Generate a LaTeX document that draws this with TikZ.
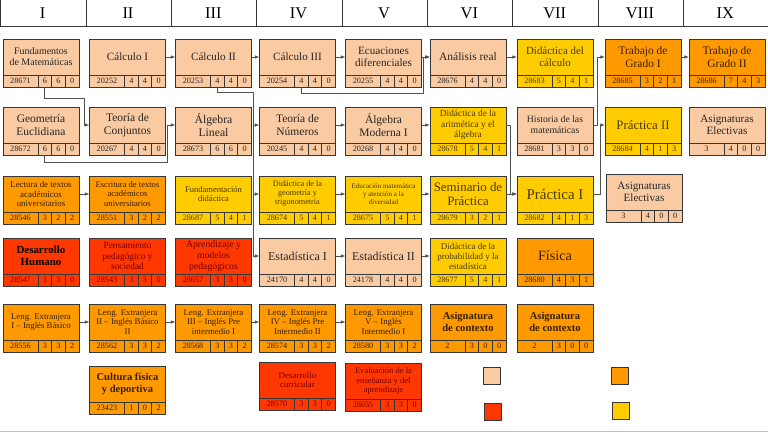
\documentclass[tikz,border=0pt]{standalone}
\usepackage{fontspec}
\setmainfont{Liberation Serif}
\usepackage{tikz}
\usetikzlibrary{arrows.meta}

\definecolor{durazno}{RGB}{250,202,162}
\definecolor{naranja}{RGB}{255,153,0}
\definecolor{amarillo}{RGB}{255,204,0}
\definecolor{rojo}{RGB}{255,55,0}
\definecolor{borde}{RGB}{55,55,55}
\definecolor{conector}{RGB}{80,80,80}

\tikzset{tam/.style={font=\linespread{1.1}\fontsize{#1}{#1}\selectfont}}
\tikzstyle{caja}=[draw=borde, line width=0.8pt, inner sep=0pt, outer sep=0pt, align=center, minimum width=22.8mm, minimum height=10.8mm]
\tikzstyle{celda}=[draw=borde, line width=0.8pt, inner sep=0pt, outer sep=0pt, minimum height=3.6mm, font=\fontsize{7}{7}\selectfont]
\tikzstyle{claro}=[fill=durazno, text=black!85]
\tikzstyle{nar}=[fill=naranja, text={rgb,255:red,55;green,32;blue,0}]
\tikzstyle{amar}=[fill=amarillo, text={rgb,255:red,75;green,58;blue,0}]
\tikzstyle{rojo}=[fill=rojo, text={rgb,255:red,120;green,0;blue,0}]
\tikzstyle{flecha}=[draw=conector, line width=0.6pt, -{Latex[length=4pt,width=3pt]}]
\tikzstyle{rejilla}=[draw=borde, line width=0.7pt]
\tikzstyle{muestra}=[draw=borde, line width=0.8pt, minimum size=5.1mm, inner sep=0pt]
\tikzstyle{cabecera}=[font=\fontsize{14}{14}\selectfont]

\newcommand{\materia}[9]{%
  \node[caja, #3, tam=#4] (#1) at #2 {#5};
  \node[celda, #3, minimum width=10.5mm, anchor=north west] (#1-cod) at (#1.south west) {#6};
  \node[celda, #3, minimum width=4.1mm, anchor=west] (#1-a) at (#1-cod.east) {#7};
  \node[celda, #3, minimum width=4.1mm, anchor=west] (#1-b) at (#1-a.east) {#8};
  \node[celda, #3, minimum width=4.1mm, anchor=west] (#1-c) at (#1-b.east) {#9};
}

\begin{document}
\begin{tikzpicture}[x=0.3mm, y=-0.3mm]
  \useasboundingbox (0,0) rectangle (768,433);

  \draw[rejilla] (0.5,0) -- (0.5,26) -- (768,26);
  \foreach \x in {86,171,256,342,427,512,598,683}
    \draw[rejilla] (\x,0) -- (\x,26);
  \foreach \n [count=\i] in {I,II,III,IV,V,VI,VII,VIII,IX}
    \node[cabecera] (h\i) at ({85.33*\i-42.67},13) {\n};
  \draw[gray!50, line width=0.8pt] (0,431) -- (768,431);

  \materia{fund}{(41,57)}{claro}{8.5}{Fundamentos\\de Matemáticas}{28671}{6}{6}{0}
  \materia{geo}{(41,125)}{claro}{9.8}{Geometría\\Euclidiana}{28672}{6}{6}{0}
  \materia{lect}{(41,194)}{nar}{7.6}{Lectura de textos\\académicos\\universitarios}{28546}{3}{2}{2}
  \materia{desh}{(41,256)}{rojo}{9.3}{\textcolor{black}{\textbf{Desarrollo}}\\\textcolor{black}{\textbf{Humano}}}{28547}{3}{3}{0}
  \materia{leng1}{(41,322)}{nar}{7.5}{Leng. Extranjera\\I – Inglés Básico}{28556}{3}{3}{2}

  \materia{calcI}{(127.5,57)}{claro}{9.5}{Cálculo I}{20252}{4}{4}{0}
  \materia{conj}{(127.5,125)}{claro}{9.8}{Teoría de\\Conjuntos}{20267}{4}{4}{0}
  \materia{escr}{(127.5,194)}{nar}{7.3}{Escritura de textos\\académicos\\universitarios}{28551}{3}{2}{2}
  \materia{pens}{(127.5,256)}{rojo}{8}{Pensamiento\\pedagógico y\\sociedad}{28543}{3}{3}{0}
  \materia{leng2}{(127.5,322)}{nar}{7.5}{Leng. Extranjera\\II – Inglés Básico\\II}{28562}{3}{3}{2}
  \materia{cult}{(127.5,384)}{nar}{9}{\textbf{Cultura física}\\\textbf{y deportiva}}{23423}{1}{0}{2}

  \materia{calcII}{(213.5,57)}{claro}{9.5}{Cálculo II}{20253}{4}{4}{0}
  \materia{alglin}{(213.5,125)}{claro}{10}{Álgebra\\Lineal}{28673}{6}{6}{0}
  \materia{fundid}{(213.5,194)}{amar}{7.3}{Fundamentación\\didáctica}{28687}{5}{4}{1}
  \materia{apren}{(213.5,256)}{rojo}{8.3}{Aprendizaje y\\modelos\\pedagógicos}{28657}{3}{3}{0}
  \materia{leng3}{(213.5,322)}{nar}{7.5}{Leng. Extranjera\\III – Inglés Pre\\intermedio I}{28568}{3}{3}{2}

  \materia{calcIII}{(297.5,57)}{claro}{9.5}{Cálculo III}{20254}{4}{4}{0}
  \materia{teonum}{(297.5,125)}{claro}{9.8}{Teoría de\\Números}{20245}{4}{4}{0}
  \materia{didgeo}{(297.5,194)}{amar}{7}{Didáctica de la\\geometría y\\trigonometría}{28674}{5}{4}{1}
  \materia{est1}{(297.5,256)}{claro}{10.2}{Estadística I}{24170}{4}{4}{0}
  \materia{leng4}{(297.5,322)}{nar}{7.5}{Leng. Extranjera\\IV – Inglés Pre\\Intermedio II}{28574}{3}{3}{2}
  \materia{descur}{(297.5,380)}{rojo}{7.6}{Desarrollo\\curricular}{28570}{3}{3}{0}

  \materia{ecua}{(383.5,57)}{claro}{9.5}{Ecuaciones\\diferenciales}{20255}{4}{4}{0}
  \materia{algmod}{(383.5,125)}{claro}{9.8}{Álgebra\\Moderna I}{20268}{4}{4}{0}
  \materia{edumat}{(383.5,194)}{amar}{6}{Educación matemática\\y atención a la\\diversidad}{28675}{5}{4}{1}
  \materia{est2}{(383.5,256)}{claro}{10.2}{Estadística II}{24178}{4}{4}{0}
  \materia{leng5}{(383.5,322)}{nar}{7.5}{Leng. Extranjera\\V – Inglés\\Intermedio I}{28580}{3}{3}{2}
  \materia{eval}{(383.5,381)}{rojo}{7.3}{Evaluación de la\\enseñanza y del\\aprendizaje}{28655}{3}{3}{0}

  \materia{anal}{(468,57)}{claro}{9.8}{Análisis real}{28676}{4}{4}{0}
  \materia{didarit}{(468,125)}{amar}{8}{Didáctica de la\\aritmética y el\\álgebra}{28678}{5}{4}{1}
  \materia{sem}{(468,194)}{amar}{11}{Seminario de\\Práctica}{28679}{3}{2}{1}
  \materia{didprob}{(468,256)}{amar}{7.7}{Didáctica de la\\probabilidad y la\\estadística}{28677}{5}{4}{1}
  \materia{ctxA}{(468,322)}{nar}{9}{\textbf{Asignatura}\\\textbf{de contexto}}{2}{3}{0}{0}

  \materia{didcalc}{(555,57)}{amar}{9.3}{Didáctica del\\cálculo}{28683}{5}{4}{1}
  \materia{hist}{(555,125)}{claro}{8.3}{Historia de las\\matemáticas}{28681}{3}{3}{0}
  \materia{pracI}{(555,194)}{amar}{12.7}{Práctica I}{28682}{4}{1}{3}
  \materia{fis}{(555,256)}{nar}{12.1}{Física}{28680}{4}{3}{1}
  \materia{ctxB}{(555,322)}{nar}{9}{\textbf{Asignatura}\\\textbf{de contexto}}{2}{3}{0}{0}

  \materia{tgI}{(643,57)}{nar}{9.8}{Trabajo de\\Grado I}{28685}{3}{2}{1}
  \materia{pracII}{(643,125)}{amar}{11}{Práctica II}{28684}{4}{1}{3}
  \materia{elecA}{(644,192)}{claro}{9.5}{Asignaturas\\Electivas}{3}{4}{0}{0}

  \materia{tgII}{(727,57)}{nar}{9.8}{Trabajo de\\Grado II}{28686}{7}{4}{3}
  \materia{elecB}{(727,125)}{claro}{9.5}{Asignaturas\\Electivas}{3}{4}{0}{0}

  \node[muestra, fill=durazno] (legA) at (491.5,375.5) {};
  \node[muestra, fill=rojo] (legB) at (492.5,411.5) {};
  \node[muestra, fill=naranja] (legC) at (620,375.5) {};
  \node[muestra, fill=amarillo] (legD) at (620.5,411) {};

  \draw[flecha] (calcI) -- (calcII);
  \draw[flecha] (calcII) -- (calcIII);
  \draw[flecha] (calcIII) -- (ecua);
  \draw[flecha] (ecua) -- (anal);
  \draw[flecha] (anal) -- (didcalc);
  \draw[flecha] (tgI) -- (tgII);
  \draw[flecha] (teonum) -- (algmod);
  \draw[flecha] (algmod) -- (didarit);
  \draw[flecha] (lect) -- (escr);
  \draw[flecha] (didgeo) -- (edumat);
  \draw[flecha] (edumat) -- (sem);
  \draw[flecha] (sem) -- (pracI);
  \draw[flecha] (est1) -- (est2);
  \draw[flecha] (est2) -- (didprob);
  \draw[flecha] (leng1) -- (leng2);
  \draw[flecha] (leng2) -- (leng3);
  \draw[flecha] (leng3) -- (leng4);
  \draw[flecha] (leng4) -- (leng5);

  \coordinate (r1) at (84,98);
  \coordinate (r2) at (167,162);
  \coordinate (r3) at (253,92);
  \coordinate (r4) at (423,93);
  \draw[flecha] (fund-a.south) |- (r1) |- (conj.west);
  \draw[flecha] (geo-a.south) |- (r2) |- (alglin.west);
  \draw[flecha] (calcII-a.south) |- (r3) |- (est1.west);
  \draw[flecha] (r3) |- (teonum.west);
  \draw[flecha] (r3) |- (didgeo.west);
  \draw[flecha] (calcIII-a.south) |- (r4) |- (anal.west);
  \draw[flecha] (didarit.east) -- ++(4,0) |- (pracI.west);
  \draw[flecha] (hist.east) -- ++(4,0) |- (tgI.west);
  \draw[flecha] (pracI.east) -- ++(7,0) |- (pracII.west);
\end{tikzpicture}
\end{document}
